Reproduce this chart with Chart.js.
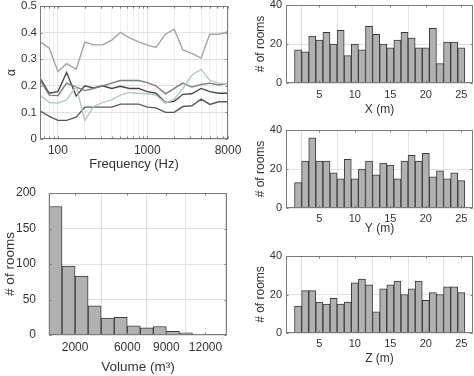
<!DOCTYPE html>
<html><head><meta charset="utf-8">
<script src="https://cdn.jsdelivr.net/npm/chart.js@4"></script>
<style>
html,body{margin:0;padding:0;background:#fff;}
body{width:474px;height:376px;position:relative;overflow:hidden;}
canvas{position:absolute;}
</style></head><body>
<canvas id="c1" width="242" height="180" style="left:0;top:0"></canvas>
<canvas id="c2" width="242" height="196" style="left:0;top:180px"></canvas>
<canvas id="c3" width="234" height="125" style="left:240px;top:0"></canvas>
<canvas id="c4" width="234" height="118" style="left:240px;top:125px"></canvas>
<canvas id="c5" width="234" height="133" style="left:240px;top:243px"></canvas>
<script>
// ---- data ----
const freqs = [63, 80, 100, 125, 160, 200, 250, 315, 400, 500, 630, 800, 1000, 1250, 1600, 2000, 2500, 3150, 4000, 5000, 6300, 8000];
const alphaA = [0.366, 0.341, 0.254, 0.283, 0.262, 0.364, 0.354, 0.354, 0.372, 0.401, 0.380, 0.365, 0.353, 0.344, 0.394, 0.413, 0.335, 0.322, 0.304, 0.394, 0.394, 0.403];
const alphaB = [0.229, 0.172, 0.178, 0.250, 0.162, 0.200, 0.192, 0.200, 0.190, 0.198, 0.190, 0.190, 0.178, 0.172, 0.137, 0.142, 0.168, 0.170, 0.190, 0.178, 0.172, 0.172];
const alphaC = [0.222, 0.165, 0.163, 0.210, 0.195, 0.182, 0.190, 0.200, 0.210, 0.220, 0.220, 0.220, 0.212, 0.200, 0.170, 0.190, 0.210, 0.195, 0.205, 0.210, 0.203, 0.210];
const alphaD = [0.165, 0.137, 0.135, 0.147, 0.197, 0.070, 0.122, 0.137, 0.147, 0.165, 0.175, 0.172, 0.170, 0.165, 0.135, 0.150, 0.190, 0.240, 0.262, 0.220, 0.210, 0.207];
const alphaE = [0.106, 0.085, 0.070, 0.070, 0.082, 0.120, 0.120, 0.120, 0.120, 0.131, 0.131, 0.131, 0.120, 0.117, 0.100, 0.100, 0.122, 0.125, 0.150, 0.130, 0.140, 0.140];
const freqTicks = [100, 1000, 8000];
const freqGrid = [70, 80, 90, 100, 200, 300, 400, 500, 600, 700, 800, 900, 1000, 2000, 3000, 4000, 5000, 6000, 7000, 8000];
const alphaTicks = [0, 0.1, 0.2, 0.3, 0.4, 0.5];

const volCenters = [500, 1500, 2500, 3500, 4500, 5500, 6500, 7500, 8500, 9500, 10500, 11500, 12500];
const volCounts = [181, 97, 83, 41, 24, 25, 13, 10, 12, 5, 3, 1, 1];
const volTicks = [2000, 6000, 9000, 12000];
const roomTicksVol = [0, 50, 100, 150, 200];

const dimCenters = [2, 3, 4, 5, 6, 7, 8, 9, 10, 11, 12, 13, 14, 15, 16, 17, 18, 19, 20, 21, 22, 23, 24, 25];
const xCounts = [17, 16, 24, 22, 26, 20, 27, 14, 20, 17, 29, 25, 20, 18, 22, 26, 23, 18, 18, 28, 10, 21, 21, 18];
const yCounts = [13, 24, 36, 24, 24, 18, 15, 25, 15, 20, 24, 17, 23, 22, 15, 24, 27, 24, 28, 16, 19, 15, 18, 14];
const zCounts = [14, 22, 22, 16, 15, 18, 15, 16, 26, 28, 25, 11, 23, 25, 27, 20, 23, 27, 17, 21, 20, 24, 24, 21];
const dimTicks = [5, 10, 15, 20, 25];
const roomTicksDim = [0, 20, 40];

// ---- styling ----
const FONT = "'Liberation Sans', Arial, Helvetica, sans-serif";
const TXT = '#333333';
const BOX = '#7a7a7a';
const GRID = '#e2e2e2';
const GRID_MINOR = '#f0f0f0';
const BAR_FILL = '#b1b1b1';
const BAR_EDGE = '#3a3a3a';
Chart.defaults.font.family = FONT;
Chart.defaults.color = TXT;
Chart.defaults.animation = false;

const boxPlugin = {
  id: 'boxPlugin',
  afterDraw(chart) {
    const {ctx, chartArea: a} = chart;
    const l = Math.round(a.left) + 0.5, t = Math.round(a.top) + 0.5;
    const r = Math.round(a.right) - 0.5, b = Math.round(a.bottom) - 0.5;
    ctx.save();
    ctx.strokeStyle = BOX;
    ctx.lineWidth = 1;
    ctx.beginPath();
    const xs = chart.scales.x;
    xs.ticks.forEach((tk, i) => {
      const px = Math.round(xs.getPixelForTick(i)) + 0.5;
      ctx.moveTo(px, b); ctx.lineTo(px, b - 2);
      ctx.moveTo(px, t); ctx.lineTo(px, t + 2);
    });
    const ys = chart.scales.y;
    ys.ticks.forEach((tk, i) => {
      const py = Math.round(ys.getPixelForTick(i)) + 0.5;
      ctx.moveTo(l, py); ctx.lineTo(l + 2, py);
      ctx.moveTo(r, py); ctx.lineTo(r - 2, py);
    });
    ctx.stroke();
    ctx.strokeRect(l, t, r - l, b - t);
    ctx.restore();
  }
};

function fixW(w) { return s => { s.width = w; s.paddingTop = 0; s.paddingBottom = 0; }; }
function fixH(h) { return s => { s.height = h; s.paddingLeft = 0; s.paddingRight = 0; }; }

// ---- chart 1: absorption coefficient vs frequency ----
function lineDs(vals, color) {
  return {
    data: freqs.map((f, i) => ({x: f, y: vals[i]})),
    borderColor: color, borderWidth: 1.4, pointRadius: 0, tension: 0, fill: false
  };
}
new Chart(document.getElementById('c1'), {
  type: 'line',
  data: {datasets: [
    lineDs(alphaA, '#a3a3a3'),
    lineDs(alphaD, '#b7c6c9'),
    lineDs(alphaC, '#7d7d7d'),
    lineDs(alphaB, '#474747'),
    lineDs(alphaE, '#585858')
  ]},
  options: {
    responsive: false, devicePixelRatio: 1,
    layout: {padding: {top: 6, right: 14, left: 0, bottom: 0}, autoPadding: false},
    plugins: {legend: {display: false}, tooltip: {enabled: false}},
    scales: {
      x: {
        type: 'logarithmic', min: 63, max: 8000,
        afterBuildTicks: s => { s.ticks = freqGrid.map(v => ({value: v})); },
        afterFit: fixH(41),
        ticks: {
          autoSkip: false, maxRotation: 0, padding: 4.5, color: TXT,
          font: {size: 12},
          callback: v => freqTicks.includes(v) ? String(v) : ''
        },
        grid: {drawTicks: false, color: c => (c.tick && (c.tick.value === 100 || c.tick.value === 1000)) ? GRID : GRID_MINOR},
        border: {display: false},
        title: {display: true, text: 'Frequency (Hz)', font: {size: 13}, color: TXT, padding: {top: 0, bottom: 8}}
      },
      y: {
        type: 'linear', min: 0, max: 0.5,
        afterBuildTicks: s => { s.ticks = alphaTicks.map(v => ({value: v})); },
        afterFit: fixW(40),
        ticks: {padding: 3, color: TXT, font: {size: 11.5}, callback: v => String(v)},
        grid: {drawTicks: false, color: GRID},
        border: {display: false},
        title: {display: true, text: 'α', font: {size: 12}, color: TXT, padding: {top: 4.5, bottom: 0}}
      }
    }
  },
  plugins: [boxPlugin]
});

// ---- histograms ----
function hist(id, centers, counts, cfg) {
  return new Chart(document.getElementById(id), {
    type: 'bar',
    data: {datasets: [{
      data: centers.map((c, i) => ({x: c, y: counts[i]})),
      backgroundColor: BAR_FILL, borderColor: BAR_EDGE, borderWidth: 1,
      barPercentage: 1, categoryPercentage: 1
    }]},
    options: {
      responsive: false, devicePixelRatio: 1,
      layout: {padding: {top: cfg.padTop, right: cfg.padRight, left: 0, bottom: 0}, autoPadding: false},
      plugins: {legend: {display: false}, tooltip: {enabled: false}},
      scales: {
        x: {
          type: 'linear', min: cfg.xMin, max: cfg.xMax, offset: false,
          afterBuildTicks: s => { s.ticks = cfg.xTicks.map(v => ({value: v})); },
          afterFit: fixH(cfg.xH),
          ticks: {autoSkip: false, maxRotation: 0, padding: cfg.xTickPad, color: TXT, font: {size: cfg.tickSize}, callback: v => String(v)},
          grid: {drawTicks: false, color: GRID},
          border: {display: false},
          title: {display: true, text: cfg.xTitle, font: {size: cfg.titleSize}, color: TXT, padding: {top: 0, bottom: cfg.xTitlePad}}
        },
        y: {
          type: 'linear', min: 0, max: cfg.yMax,
          afterBuildTicks: s => { s.ticks = cfg.yTicks.map(v => ({value: v})); },
          afterFit: fixW(cfg.yW),
          ticks: {padding: cfg.yTickPad, color: TXT, font: {size: cfg.tickSize}, callback: v => String(v)},
          grid: {drawTicks: false, color: GRID},
          border: {display: false},
          title: {display: true, text: '# of rooms', font: {size: cfg.yTitleSize}, color: TXT, padding: {top: cfg.yTitlePad, bottom: 0}}
        }
      }
    },
    plugins: [boxPlugin]
  });
}

hist('c2', volCenters, volCounts, {
  padTop: 13, padRight: 15, xH: 41, yW: 49,
  xMin: 0, xMax: 13650, xTicks: volTicks, yMax: 200, yTicks: roomTicksVol,
  xTickPad: 5, yTickPad: 13, tickSize: 12, titleSize: 13.5, yTitleSize: 13.5,
  xTitle: 'Volume (m³)', xTitlePad: 1, yTitlePad: 2
});
const dimBase = {padRight: 1, yW: 46, xMin: 0.3, xMax: 26.65, xTicks: dimTicks, yMax: 40, yTicks: roomTicksDim,
  yTickPad: 4, tickSize: 11, titleSize: 12, yTitleSize: 12, yTitlePad: 13.6};
hist('c3', dimCenters, xCounts, Object.assign({}, dimBase, {padTop: 5, xH: 42, xTickPad: 5.8, xTitle: 'X (m)', xTitlePad: 7.8}));
hist('c4', dimCenters, yCounts, Object.assign({}, dimBase, {padTop: 5, xH: 35, xTickPad: 4, xTitle: 'Y (m)', xTitlePad: 6.8}));
hist('c5', dimCenters, zCounts, Object.assign({}, dimBase, {padTop: 13, xH: 43, xTickPad: 4, xTitle: 'Z (m)', xTitlePad: 9.8}));
</script>
</body></html>
